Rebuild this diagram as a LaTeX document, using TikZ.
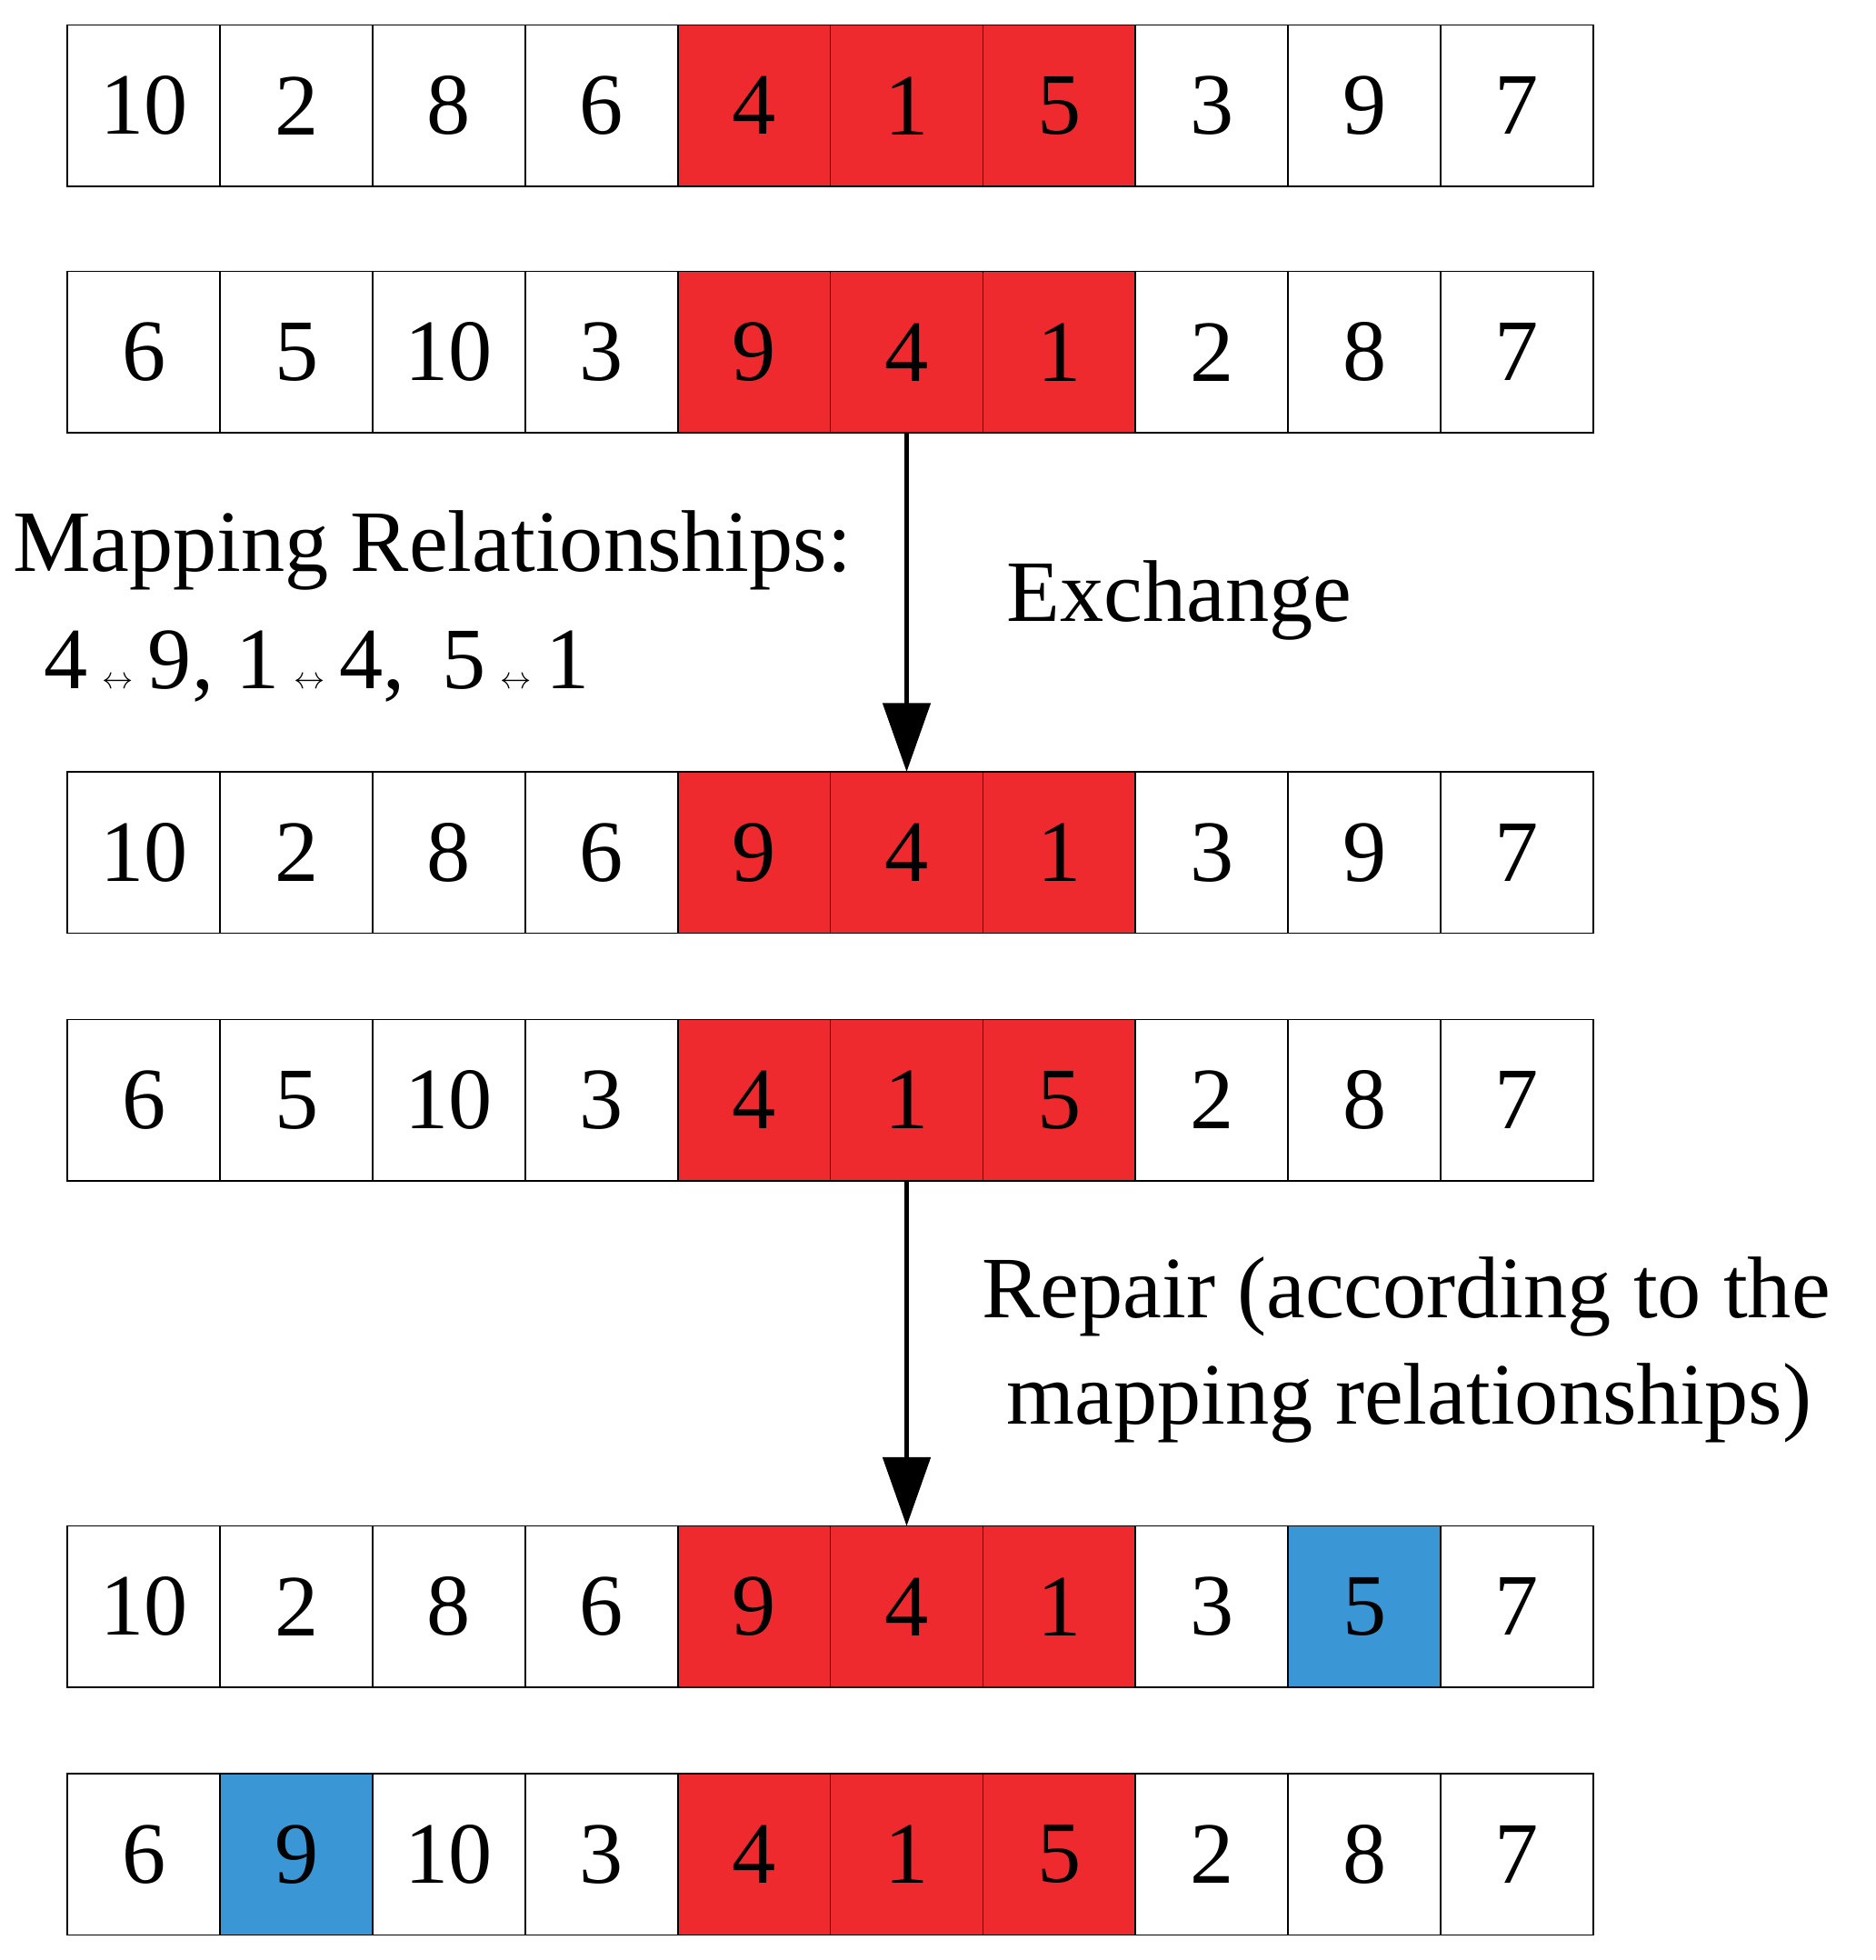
\documentclass[tikz,border=0pt]{standalone}
\usepackage{fontspec}
\setmainfont{Liberation Serif}
\usetikzlibrary{arrows.meta}
\definecolor{cred}{HTML}{EE2A2E}
\definecolor{cblue}{HTML}{3A96D4}
\begin{document}
\begin{tikzpicture}[x=1pt,y=-1pt,
  cell/.style={draw=black,line width=1.2pt,minimum width=122pt,minimum height=129pt,inner sep=0,outer sep=0,anchor=north west,font=\fontsize{70}{70}\selectfont},
  lbl/.style={font=\fontsize{70}{80}\selectfont,inner sep=0,anchor=west},
  arr/.style={line width=3pt,-{Triangle[length=55pt,width=38pt]}}]
\useasboundingbox (0,0) rectangle (1500,1567);
\def\row#1#2#3#4{%
  \foreach \v [count=\i from 0] in {#3}{%
    \pgfmathsetmacro{\xx}{54+122*\i}%
    \edef\fc{white}%
    \ifnum\i>3 \ifnum\i<7 \edef\fc{cred}\fi\fi
    \foreach \b in {#4}{\ifnum\i=\b \xdef\fc{cblue}\fi}%
    \node[cell,fill=\fc] (#1c\i) at (\xx,#2) {\v};
  }}
\row{a}{20}{10,2,8,6,4,1,5,3,9,7}{-1}
\row{b}{217}{6,5,10,3,9,4,1,2,8,7}{-1}
\row{c}{617}{10,2,8,6,9,4,1,3,9,7}{-1}
\row{d}{815}{6,5,10,3,4,1,5,2,8,7}{-1}
\row{e}{1220}{10,2,8,6,9,4,1,3,5,7}{8}
\row{f}{1418}{6,9,10,3,4,1,5,2,8,7}{1}
\draw[arr] (bc5.south) -- (cc5.north);
\draw[arr] (dc5.south) -- (ec5.north);
\node[lbl] (m1) at (10,440) {Mapping Relationships:};
\node[lbl] (m2) at (35,533) {4\,$\leftrightarrow$\,9, 1\,$\leftrightarrow$\,4,\, 5\,$\leftrightarrow$\,1};
\node[lbl] (ex) at (805,480) {Exchange};
\node[lbl] (r1) at (785,1037) {Repair (according to the};
\node[lbl] (r2) at (805,1122) {mapping relationships)};
\end{tikzpicture}
\end{document}
